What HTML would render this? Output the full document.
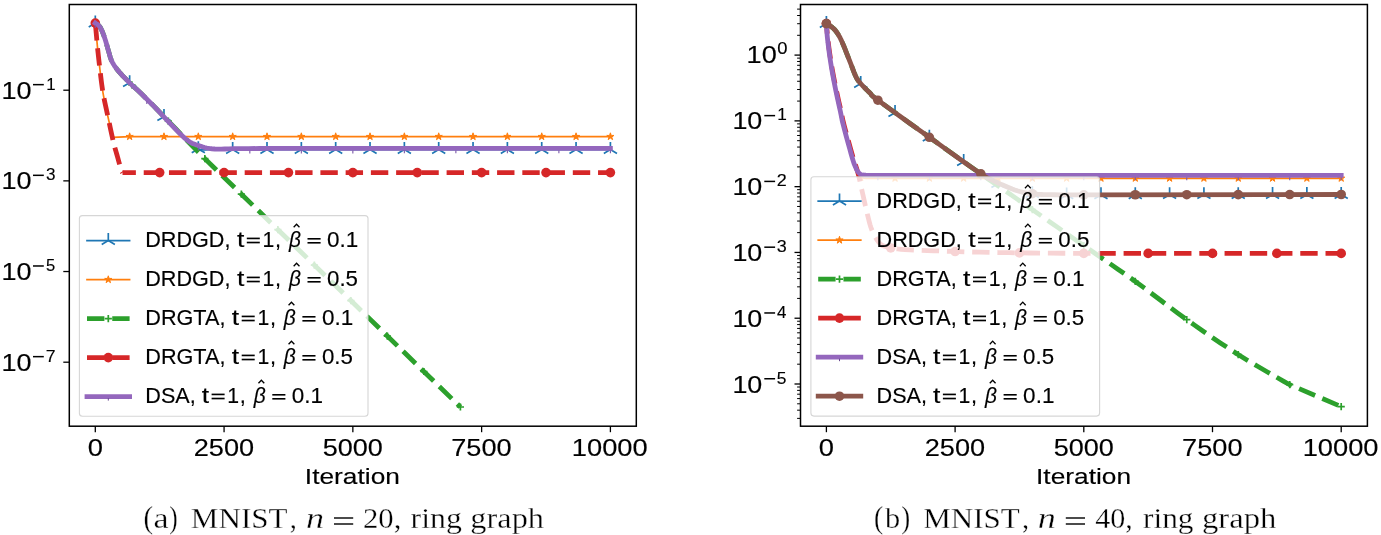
<!DOCTYPE html>
<html><head><meta charset="utf-8"><style>html,body{margin:0;padding:0;background:#fff;width:1381px;height:535px;overflow:hidden} svg{display:block;will-change:transform}</style></head>
<body><svg width="1381" height="535" viewBox="0 0 1381 535">
<rect width="1381" height="535" fill="#fff"/>
<clipPath id="cl"><rect x="69.3" y="4.5" width="567.0" height="421.7"/></clipPath>
<g clip-path="url(#cl)"><path d="M95.30,23.10 L95.81,23.45 L96.53,23.87 L97.37,24.40 L98.27,25.07 L99.17,25.93 L100.00,27.00 L100.76,28.30 L101.52,29.81 L102.27,31.51 L103.01,33.35 L103.76,35.33 L104.50,37.40 L105.26,39.70 L106.03,42.28 L106.79,44.99 L107.54,47.67 L108.25,50.19 L108.90,52.40 L109.45,54.25 L109.89,55.84 L110.30,57.27 L110.73,58.62 L111.24,59.97 L111.90,61.40 L112.67,62.87 L113.51,64.32 L114.43,65.76 L115.46,67.24 L116.60,68.77 L117.90,70.40 L119.35,72.12 L120.96,73.91 L122.68,75.77 L124.51,77.67 L126.42,79.62 L128.40,81.60 L130.46,83.61 L132.63,85.65 L134.89,87.73 L137.20,89.86 L139.55,92.05 L141.90,94.30 L144.12,96.46 L146.20,98.51 L148.32,100.61 L150.64,102.94 L153.34,105.68 L156.60,109.00 L160.72,113.27 L165.62,118.41 L170.91,123.97 L176.17,129.46 L181.00,134.43 L185.00,138.40 L188.01,141.34 L190.33,143.63 L192.22,145.39 L193.95,146.75 L195.79,147.84 L198.00,148.80 L200.50,149.50 L203.04,149.81 L205.69,149.85 L208.51,149.75 L211.56,149.62 L214.90,149.60 L218.90,149.65 L223.59,149.66 L228.51,149.65 L233.19,149.63 L237.17,149.61 L240.00,149.60 L610.40,149.60" fill="none" stroke="#1f77b4" stroke-width="1.7" stroke-linecap="square" stroke-linejoin="round"/>
<path d="M95.30,23.10 L95.30,15.50 M95.30,23.10 L88.72,26.90 M95.30,23.10 L101.88,26.90" stroke="#1f77b4" stroke-width="1.7" fill="none"/>
<path d="M129.64,82.81 L129.64,75.21 M129.64,82.81 L123.06,86.61 M129.64,82.81 L136.22,86.61" stroke="#1f77b4" stroke-width="1.7" fill="none"/>
<path d="M163.98,116.69 L163.98,109.09 M163.98,116.69 L157.40,120.49 M163.98,116.69 L170.56,120.49" stroke="#1f77b4" stroke-width="1.7" fill="none"/>
<path d="M198.32,148.89 L198.32,141.29 M198.32,148.89 L191.74,152.69 M198.32,148.89 L204.90,152.69" stroke="#1f77b4" stroke-width="1.7" fill="none"/>
<path d="M232.66,149.63 L232.66,142.03 M232.66,149.63 L226.08,153.43 M232.66,149.63 L239.24,153.43" stroke="#1f77b4" stroke-width="1.7" fill="none"/>
<path d="M267.00,149.60 L267.00,142.00 M267.00,149.60 L260.42,153.40 M267.00,149.60 L273.58,153.40" stroke="#1f77b4" stroke-width="1.7" fill="none"/>
<path d="M301.34,149.60 L301.34,142.00 M301.34,149.60 L294.76,153.40 M301.34,149.60 L307.92,153.40" stroke="#1f77b4" stroke-width="1.7" fill="none"/>
<path d="M335.68,149.60 L335.68,142.00 M335.68,149.60 L329.10,153.40 M335.68,149.60 L342.26,153.40" stroke="#1f77b4" stroke-width="1.7" fill="none"/>
<path d="M370.02,149.60 L370.02,142.00 M370.02,149.60 L363.44,153.40 M370.02,149.60 L376.60,153.40" stroke="#1f77b4" stroke-width="1.7" fill="none"/>
<path d="M404.36,149.60 L404.36,142.00 M404.36,149.60 L397.78,153.40 M404.36,149.60 L410.94,153.40" stroke="#1f77b4" stroke-width="1.7" fill="none"/>
<path d="M438.70,149.60 L438.70,142.00 M438.70,149.60 L432.12,153.40 M438.70,149.60 L445.28,153.40" stroke="#1f77b4" stroke-width="1.7" fill="none"/>
<path d="M473.04,149.60 L473.04,142.00 M473.04,149.60 L466.46,153.40 M473.04,149.60 L479.62,153.40" stroke="#1f77b4" stroke-width="1.7" fill="none"/>
<path d="M507.38,149.60 L507.38,142.00 M507.38,149.60 L500.80,153.40 M507.38,149.60 L513.96,153.40" stroke="#1f77b4" stroke-width="1.7" fill="none"/>
<path d="M541.72,149.60 L541.72,142.00 M541.72,149.60 L535.14,153.40 M541.72,149.60 L548.30,153.40" stroke="#1f77b4" stroke-width="1.7" fill="none"/>
<path d="M576.06,149.60 L576.06,142.00 M576.06,149.60 L569.48,153.40 M576.06,149.60 L582.64,153.40" stroke="#1f77b4" stroke-width="1.7" fill="none"/>
<path d="M610.40,149.60 L610.40,142.00 M610.40,149.60 L603.82,153.40 M610.40,149.60 L616.98,153.40" stroke="#1f77b4" stroke-width="1.7" fill="none"/>
<path d="M95.30,23.10 L95.39,24.10 L95.51,25.43 L95.66,27.03 L95.82,28.85 L96.00,30.86 L96.20,33.00 L96.41,35.31 L96.63,37.83 L96.86,40.53 L97.12,43.38 L97.40,46.35 L97.70,49.40 L98.03,52.56 L98.38,55.87 L98.76,59.30 L99.15,62.81 L99.57,66.39 L100.00,70.00 L100.44,73.66 L100.87,77.39 L101.33,81.17 L101.83,85.01 L102.38,88.89 L103.00,92.80 L103.72,96.80 L104.53,100.90 L105.39,105.05 L106.27,109.16 L107.16,113.17 L108.00,117.00 L108.87,120.86 L109.79,124.84 L110.71,128.71 L111.56,132.25 L112.28,135.22 L112.80,137.40 L129.60,136.60 L610.40,136.60" fill="none" stroke="#ff7f0e" stroke-width="1.7" stroke-linecap="square" stroke-linejoin="round"/>
<path d="M95.30,19.30 L96.15,21.93 L98.91,21.93 L96.68,23.55 L97.53,26.17 L95.30,24.55 L93.07,26.17 L93.92,23.55 L91.69,21.93 L94.45,21.93Z" fill="#ff7f0e" stroke="#ff7f0e" stroke-width="1.0" stroke-linejoin="miter"/>
<path d="M129.64,132.80 L130.49,135.43 L133.25,135.43 L131.02,137.05 L131.87,139.67 L129.64,138.05 L127.41,139.67 L128.26,137.05 L126.03,135.43 L128.79,135.43Z" fill="#ff7f0e" stroke="#ff7f0e" stroke-width="1.0" stroke-linejoin="miter"/>
<path d="M163.98,132.80 L164.83,135.43 L167.59,135.43 L165.36,137.05 L166.21,139.67 L163.98,138.05 L161.75,139.67 L162.60,137.05 L160.37,135.43 L163.13,135.43Z" fill="#ff7f0e" stroke="#ff7f0e" stroke-width="1.0" stroke-linejoin="miter"/>
<path d="M198.32,132.80 L199.17,135.43 L201.93,135.43 L199.70,137.05 L200.55,139.67 L198.32,138.05 L196.09,139.67 L196.94,137.05 L194.71,135.43 L197.47,135.43Z" fill="#ff7f0e" stroke="#ff7f0e" stroke-width="1.0" stroke-linejoin="miter"/>
<path d="M232.66,132.80 L233.51,135.43 L236.27,135.43 L234.04,137.05 L234.89,139.67 L232.66,138.05 L230.43,139.67 L231.28,137.05 L229.05,135.43 L231.81,135.43Z" fill="#ff7f0e" stroke="#ff7f0e" stroke-width="1.0" stroke-linejoin="miter"/>
<path d="M267.00,132.80 L267.85,135.43 L270.61,135.43 L268.38,137.05 L269.23,139.67 L267.00,138.05 L264.77,139.67 L265.62,137.05 L263.39,135.43 L266.15,135.43Z" fill="#ff7f0e" stroke="#ff7f0e" stroke-width="1.0" stroke-linejoin="miter"/>
<path d="M301.34,132.80 L302.19,135.43 L304.95,135.43 L302.72,137.05 L303.57,139.67 L301.34,138.05 L299.11,139.67 L299.96,137.05 L297.73,135.43 L300.49,135.43Z" fill="#ff7f0e" stroke="#ff7f0e" stroke-width="1.0" stroke-linejoin="miter"/>
<path d="M335.68,132.80 L336.53,135.43 L339.29,135.43 L337.06,137.05 L337.91,139.67 L335.68,138.05 L333.45,139.67 L334.30,137.05 L332.07,135.43 L334.83,135.43Z" fill="#ff7f0e" stroke="#ff7f0e" stroke-width="1.0" stroke-linejoin="miter"/>
<path d="M370.02,132.80 L370.87,135.43 L373.63,135.43 L371.40,137.05 L372.25,139.67 L370.02,138.05 L367.79,139.67 L368.64,137.05 L366.41,135.43 L369.17,135.43Z" fill="#ff7f0e" stroke="#ff7f0e" stroke-width="1.0" stroke-linejoin="miter"/>
<path d="M404.36,132.80 L405.21,135.43 L407.97,135.43 L405.74,137.05 L406.59,139.67 L404.36,138.05 L402.13,139.67 L402.98,137.05 L400.75,135.43 L403.51,135.43Z" fill="#ff7f0e" stroke="#ff7f0e" stroke-width="1.0" stroke-linejoin="miter"/>
<path d="M438.70,132.80 L439.55,135.43 L442.31,135.43 L440.08,137.05 L440.93,139.67 L438.70,138.05 L436.47,139.67 L437.32,137.05 L435.09,135.43 L437.85,135.43Z" fill="#ff7f0e" stroke="#ff7f0e" stroke-width="1.0" stroke-linejoin="miter"/>
<path d="M473.04,132.80 L473.89,135.43 L476.65,135.43 L474.42,137.05 L475.27,139.67 L473.04,138.05 L470.81,139.67 L471.66,137.05 L469.43,135.43 L472.19,135.43Z" fill="#ff7f0e" stroke="#ff7f0e" stroke-width="1.0" stroke-linejoin="miter"/>
<path d="M507.38,132.80 L508.23,135.43 L510.99,135.43 L508.76,137.05 L509.61,139.67 L507.38,138.05 L505.15,139.67 L506.00,137.05 L503.77,135.43 L506.53,135.43Z" fill="#ff7f0e" stroke="#ff7f0e" stroke-width="1.0" stroke-linejoin="miter"/>
<path d="M541.72,132.80 L542.57,135.43 L545.33,135.43 L543.10,137.05 L543.95,139.67 L541.72,138.05 L539.49,139.67 L540.34,137.05 L538.11,135.43 L540.87,135.43Z" fill="#ff7f0e" stroke="#ff7f0e" stroke-width="1.0" stroke-linejoin="miter"/>
<path d="M576.06,132.80 L576.91,135.43 L579.67,135.43 L577.44,137.05 L578.29,139.67 L576.06,138.05 L573.83,139.67 L574.68,137.05 L572.45,135.43 L575.21,135.43Z" fill="#ff7f0e" stroke="#ff7f0e" stroke-width="1.0" stroke-linejoin="miter"/>
<path d="M610.40,132.80 L611.25,135.43 L614.01,135.43 L611.78,137.05 L612.63,139.67 L610.40,138.05 L608.17,139.67 L609.02,137.05 L606.79,135.43 L609.55,135.43Z" fill="#ff7f0e" stroke="#ff7f0e" stroke-width="1.0" stroke-linejoin="miter"/>
<path d="M95.30,23.10 L95.81,23.45 L96.53,23.87 L97.37,24.40 L98.27,25.07 L99.17,25.93 L100.00,27.00 L100.76,28.30 L101.52,29.81 L102.27,31.51 L103.01,33.35 L103.76,35.33 L104.50,37.40 L105.26,39.70 L106.03,42.28 L106.79,44.99 L107.54,47.67 L108.25,50.19 L108.90,52.40 L109.45,54.25 L109.89,55.84 L110.30,57.27 L110.73,58.62 L111.24,59.97 L111.90,61.40 L112.67,62.87 L113.51,64.32 L114.43,65.76 L115.46,67.24 L116.60,68.77 L117.90,70.40 L119.35,72.12 L120.96,73.91 L122.68,75.77 L124.51,77.67 L126.42,79.62 L128.40,81.60 L130.46,83.61 L132.63,85.65 L134.89,87.73 L137.20,89.86 L139.55,92.05 L141.90,94.30 L144.12,96.46 L146.20,98.51 L148.32,100.61 L150.64,102.94 L153.34,105.68 L156.60,109.00 L160.64,113.16 L165.37,118.05 L170.48,123.36 L175.66,128.74 L180.61,133.86 L185.00,138.40 L189.03,142.53 L192.97,146.56 L196.68,150.34 L199.99,153.70 L202.75,156.51 L204.80,158.60 L460.40,407.00" fill="none" stroke="#2ca02c" stroke-width="4.8" stroke-dasharray="17.4 7.84" stroke-dashoffset="0.46" stroke-linecap="butt" stroke-linejoin="round"/>
<path d="M91.70,23.10 L98.90,23.10 M95.30,19.50 L95.30,26.70" stroke="#2ca02c" stroke-width="1.7" fill="none"/>
<path d="M128.21,84.87 L135.41,84.87 M131.81,81.27 L131.81,88.47" stroke="#2ca02c" stroke-width="1.7" fill="none"/>
<path d="M164.72,121.11 L171.92,121.11 M168.32,117.51 L168.32,124.71" stroke="#2ca02c" stroke-width="1.7" fill="none"/>
<path d="M201.23,158.63 L208.43,158.63 M204.83,155.03 L204.83,162.23" stroke="#2ca02c" stroke-width="1.7" fill="none"/>
<path d="M237.74,194.11 L244.94,194.11 M241.34,190.51 L241.34,197.71" stroke="#2ca02c" stroke-width="1.7" fill="none"/>
<path d="M274.25,229.59 L281.45,229.59 M277.85,225.99 L277.85,233.19" stroke="#2ca02c" stroke-width="1.7" fill="none"/>
<path d="M310.76,265.07 L317.96,265.07 M314.36,261.47 L314.36,268.67" stroke="#2ca02c" stroke-width="1.7" fill="none"/>
<path d="M347.27,300.56 L354.47,300.56 M350.87,296.96 L350.87,304.16" stroke="#2ca02c" stroke-width="1.7" fill="none"/>
<path d="M383.78,336.04 L390.98,336.04 M387.38,332.44 L387.38,339.64" stroke="#2ca02c" stroke-width="1.7" fill="none"/>
<path d="M420.29,371.52 L427.49,371.52 M423.89,367.92 L423.89,375.12" stroke="#2ca02c" stroke-width="1.7" fill="none"/>
<path d="M456.80,407.00 L464.00,407.00 M460.40,403.40 L460.40,410.60" stroke="#2ca02c" stroke-width="1.7" fill="none"/>
<path d="M95.30,23.10 L95.39,24.10 L95.51,25.43 L95.66,27.03 L95.82,28.85 L96.00,30.86 L96.20,33.00 L96.41,35.31 L96.63,37.83 L96.86,40.53 L97.12,43.38 L97.40,46.35 L97.70,49.40 L98.03,52.56 L98.38,55.87 L98.76,59.30 L99.15,62.81 L99.57,66.39 L100.00,70.00 L100.44,73.66 L100.87,77.39 L101.33,81.17 L101.83,85.01 L102.38,88.89 L103.00,92.80 L103.71,96.74 L104.50,100.73 L105.35,104.76 L106.23,108.82 L107.12,112.90 L108.00,117.00 L108.90,121.26 L109.84,125.72 L110.79,130.20 L111.72,134.53 L112.60,138.52 L113.40,142.00 L114.12,144.91 L114.77,147.37 L115.38,149.50 L115.95,151.41 L116.48,153.20 L117.00,155.00 L117.51,156.84 L118.01,158.63 L118.47,160.31 L118.89,161.81 L119.24,163.07 L119.50,164.00 L121.00,170.30 L122.50,172.60" fill="none" stroke="#d62728" stroke-width="4.8" stroke-dasharray="17.4 7.84" stroke-dashoffset="0.00" stroke-linecap="butt" stroke-linejoin="round"/>
<path d="M122.50,172.60 L610.40,172.60" fill="none" stroke="#d62728" stroke-width="4.8" stroke-dasharray="17.4 7.84" stroke-dashoffset="4.02" stroke-linecap="butt" stroke-linejoin="round"/>
<circle cx="95.30" cy="23.10" r="4.8" fill="#d62728"/>
<circle cx="159.69" cy="172.60" r="4.8" fill="#d62728"/>
<circle cx="224.07" cy="172.60" r="4.8" fill="#d62728"/>
<circle cx="288.46" cy="172.60" r="4.8" fill="#d62728"/>
<circle cx="352.85" cy="172.60" r="4.8" fill="#d62728"/>
<circle cx="417.24" cy="172.60" r="4.8" fill="#d62728"/>
<circle cx="481.62" cy="172.60" r="4.8" fill="#d62728"/>
<circle cx="546.01" cy="172.60" r="4.8" fill="#d62728"/>
<circle cx="610.40" cy="172.60" r="4.8" fill="#d62728"/>
<path d="M95.30,23.10 L95.81,23.45 L96.53,23.87 L97.37,24.40 L98.27,25.07 L99.17,25.93 L100.00,27.00 L100.76,28.30 L101.52,29.81 L102.27,31.51 L103.01,33.35 L103.76,35.33 L104.50,37.40 L105.26,39.70 L106.03,42.28 L106.79,44.99 L107.54,47.67 L108.25,50.19 L108.90,52.40 L109.45,54.25 L109.89,55.84 L110.30,57.27 L110.73,58.62 L111.24,59.97 L111.90,61.40 L112.67,62.87 L113.51,64.32 L114.43,65.76 L115.46,67.24 L116.60,68.77 L117.90,70.40 L119.35,72.12 L120.96,73.91 L122.68,75.77 L124.51,77.67 L126.42,79.62 L128.40,81.60 L130.46,83.61 L132.63,85.65 L134.89,87.73 L137.20,89.86 L139.55,92.05 L141.90,94.30 L144.12,96.46 L146.20,98.51 L148.32,100.61 L150.64,102.94 L153.34,105.68 L156.60,109.00 L160.70,113.30 L165.55,118.52 L170.78,124.14 L176.02,129.67 L180.88,134.59 L185.00,138.40 L188.28,140.98 L191.00,142.72 L193.34,143.85 L195.50,144.61 L197.66,145.25 L200.00,146.00 L202.37,146.81 L204.60,147.47 L206.82,148.00 L209.18,148.42 L211.83,148.75 L214.90,149.00 L218.09,149.13 L221.22,149.11 L224.63,149.00 L228.67,148.84 L233.68,148.69 L240.00,148.60 L248.67,148.55 L259.64,148.51 L271.57,148.47 L283.15,148.44 L293.07,148.42 L300.00,148.40 L610.40,148.30" fill="none" stroke="#9467bd" stroke-width="4.8" stroke-linecap="square" stroke-linejoin="round"/>
<path d="M95.30,25.30 L95.30,28.10" stroke="#7a57a8" stroke-width="1.1" fill="none"/>
<path d="M146.81,101.31 L146.81,104.11" stroke="#7a57a8" stroke-width="1.1" fill="none"/>
<path d="M198.32,147.66 L198.32,150.46" stroke="#7a57a8" stroke-width="1.1" fill="none"/>
<path d="M249.83,150.75 L249.83,153.55" stroke="#7a57a8" stroke-width="1.1" fill="none"/>
<path d="M301.34,150.60 L301.34,153.40" stroke="#7a57a8" stroke-width="1.1" fill="none"/>
<path d="M352.85,150.58 L352.85,153.38" stroke="#7a57a8" stroke-width="1.1" fill="none"/>
<path d="M404.36,150.57 L404.36,153.37" stroke="#7a57a8" stroke-width="1.1" fill="none"/>
<path d="M455.87,150.55 L455.87,153.35" stroke="#7a57a8" stroke-width="1.1" fill="none"/>
<path d="M507.38,150.53 L507.38,153.33" stroke="#7a57a8" stroke-width="1.1" fill="none"/>
<path d="M558.89,150.52 L558.89,153.32" stroke="#7a57a8" stroke-width="1.1" fill="none"/>
<path d="M610.40,150.50 L610.40,153.30" stroke="#7a57a8" stroke-width="1.1" fill="none"/></g>
<rect x="79.4" y="215.6" width="288.6" height="200.70000000000002" rx="3" ry="3" fill="#fff" fill-opacity="0.8" stroke="#cccccc" stroke-opacity="0.8" stroke-width="1.1"/>
<path d="M87.00,240.60 L129.60,240.60" fill="none" stroke="#1f77b4" stroke-width="1.7" stroke-linecap="square" stroke-linejoin="round"/>
<path d="M108.30,240.60 L108.30,233.00 M108.30,240.60 L101.72,244.40 M108.30,240.60 L114.88,244.40" stroke="#1f77b4" stroke-width="1.7" fill="none"/>
<rect x="246.80" y="237.60" width="13.0" height="1.65" fill="#000"/>
<rect x="246.80" y="241.70" width="13.0" height="1.65" fill="#000"/>
<path d="M293.66,227.30 L296.56,224.20 L299.46,227.30" stroke="#000" stroke-width="1.3" fill="none"/>
<rect x="307.50" y="238.00" width="13.10" height="1.6" fill="#000"/>
<rect x="307.50" y="242.00" width="13.10" height="1.6" fill="#000"/>
<path d="M87.00,279.60 L129.60,279.60" fill="none" stroke="#ff7f0e" stroke-width="1.7" stroke-linecap="square" stroke-linejoin="round"/>
<path d="M108.30,275.80 L109.15,278.43 L111.91,278.43 L109.68,280.05 L110.53,282.67 L108.30,281.05 L106.07,282.67 L106.92,280.05 L104.69,278.43 L107.45,278.43Z" fill="#ff7f0e" stroke="#ff7f0e" stroke-width="1.0" stroke-linejoin="miter"/>
<rect x="246.80" y="276.60" width="13.0" height="1.65" fill="#000"/>
<rect x="246.80" y="280.70" width="13.0" height="1.65" fill="#000"/>
<path d="M293.66,266.30 L296.56,263.20 L299.46,266.30" stroke="#000" stroke-width="1.3" fill="none"/>
<rect x="307.50" y="277.00" width="13.10" height="1.6" fill="#000"/>
<rect x="307.50" y="281.00" width="13.10" height="1.6" fill="#000"/>
<path d="M87.0,318.60 L129.6,318.60" stroke="#2ca02c" stroke-width="4.8" stroke-dasharray="17.4 7.84" fill="none"/>
<path d="M104.70,318.60 L111.90,318.60 M108.30,315.00 L108.30,322.20" stroke="#2ca02c" stroke-width="1.7" fill="none"/>
<rect x="241.70" y="315.60" width="13.0" height="1.65" fill="#000"/>
<rect x="241.70" y="319.70" width="13.0" height="1.65" fill="#000"/>
<path d="M288.56,305.30 L291.46,302.20 L294.36,305.30" stroke="#000" stroke-width="1.3" fill="none"/>
<rect x="302.40" y="316.00" width="13.10" height="1.6" fill="#000"/>
<rect x="302.40" y="320.00" width="13.10" height="1.6" fill="#000"/>
<path d="M87.0,357.60 L129.6,357.60" stroke="#d62728" stroke-width="4.8" stroke-dasharray="17.4 7.84" fill="none"/>
<circle cx="108.30" cy="357.60" r="4.8" fill="#d62728"/>
<rect x="241.70" y="354.60" width="13.0" height="1.65" fill="#000"/>
<rect x="241.70" y="358.70" width="13.0" height="1.65" fill="#000"/>
<path d="M288.56,344.30 L291.46,341.20 L294.36,344.30" stroke="#000" stroke-width="1.3" fill="none"/>
<rect x="302.40" y="355.00" width="13.10" height="1.6" fill="#000"/>
<rect x="302.40" y="359.00" width="13.10" height="1.6" fill="#000"/>
<path d="M87.00,396.60 L129.60,396.60" fill="none" stroke="#9467bd" stroke-width="4.8" stroke-linecap="square" stroke-linejoin="round"/>
<path d="M108.30,398.10 L108.30,400.60" stroke="#6a4a90" stroke-width="1" fill="none"/>
<rect x="211.60" y="393.60" width="13.0" height="1.65" fill="#000"/>
<rect x="211.60" y="397.70" width="13.0" height="1.65" fill="#000"/>
<path d="M258.46,383.30 L261.36,380.20 L264.26,383.30" stroke="#000" stroke-width="1.3" fill="none"/>
<rect x="272.30" y="394.00" width="13.10" height="1.6" fill="#000"/>
<rect x="272.30" y="398.00" width="13.10" height="1.6" fill="#000"/>
<rect x="69.3" y="4.5" width="567.0" height="421.7" fill="none" stroke="#000" stroke-width="1.5" stroke-linejoin="miter"/>
<path d="M95.30,426.2 L95.30,432.2" stroke="#000" stroke-width="1.3"/>
<path d="M224.07,426.2 L224.07,432.2" stroke="#000" stroke-width="1.3"/>
<path d="M352.85,426.2 L352.85,432.2" stroke="#000" stroke-width="1.3"/>
<path d="M481.62,426.2 L481.62,432.2" stroke="#000" stroke-width="1.3"/>
<path d="M610.40,426.2 L610.40,432.2" stroke="#000" stroke-width="1.3"/>
<path d="M63.3,90.20 L69.3,90.20" stroke="#000" stroke-width="1.3"/>
<rect x="33.0" y="83.90" width="10.8" height="1.5" fill="#000"/>
<path d="M63.3,180.87 L69.3,180.87" stroke="#000" stroke-width="1.3"/>
<rect x="33.0" y="174.57" width="10.8" height="1.5" fill="#000"/>
<path d="M63.3,271.53 L69.3,271.53" stroke="#000" stroke-width="1.3"/>
<rect x="33.0" y="265.23" width="10.8" height="1.5" fill="#000"/>
<path d="M63.3,362.20 L69.3,362.20" stroke="#000" stroke-width="1.3"/>
<rect x="33.0" y="355.90" width="10.8" height="1.5" fill="#000"/>
<clipPath id="cr"><rect x="800.5" y="4.5" width="566.9000000000001" height="421.7"/></clipPath>
<g clip-path="url(#cr)"><path d="M826.40,23.60 L827.20,24.11 L828.32,24.81 L829.64,25.64 L831.03,26.57 L832.36,27.53 L833.50,28.50 L834.46,29.47 L835.35,30.47 L836.17,31.51 L836.96,32.61 L837.73,33.77 L838.50,35.00 L839.23,36.23 L839.90,37.44 L840.54,38.71 L841.21,40.12 L841.95,41.76 L842.80,43.70 L843.78,46.03 L844.86,48.70 L846.00,51.59 L847.18,54.60 L848.36,57.61 L849.50,60.50 L850.63,63.41 L851.77,66.44 L852.91,69.47 L854.03,72.37 L855.14,75.03 L856.20,77.30 L857.19,79.11 L858.12,80.53 L859.02,81.70 L859.94,82.75 L860.92,83.80 L862.00,85.00 L863.21,86.33 L864.51,87.67 L865.87,89.03 L867.26,90.38 L868.65,91.71 L870.00,93.00 L870.82,93.90 L871.03,94.35 L871.23,94.78 L872.04,95.61 L874.06,97.28 L877.90,100.20 L884.16,104.80 L892.47,110.82 L902.00,117.68 L911.89,124.77 L921.31,131.51 L929.40,137.30 L936.26,142.22 L942.59,146.75 L948.44,150.92 L953.87,154.79 L958.93,158.36 L963.70,161.70 L968.02,164.71 L971.81,167.34 L975.24,169.69 L978.48,171.85 L981.68,173.92 L985.00,176.00 L988.35,178.08 L991.58,180.08 L994.77,181.99 L998.01,183.79 L1001.39,185.47 L1005.00,187.00 L1008.82,188.40 L1012.78,189.69 L1016.88,190.85 L1021.11,191.88 L1025.49,192.76 L1030.00,193.50 L1034.59,194.04 L1039.26,194.40 L1044.06,194.61 L1049.07,194.73 L1054.36,194.81 L1060.00,194.90 L1066.55,194.98 L1074.07,195.00 L1081.88,194.99 L1089.26,194.95 L1095.53,194.92 L1100.00,194.90 L1341.20,194.60" fill="none" stroke="#1f77b4" stroke-width="1.7" stroke-linecap="square" stroke-linejoin="round"/>
<path d="M826.40,23.60 L826.40,16.00 M826.40,23.60 L819.82,27.40 M826.40,23.60 L832.98,27.40" stroke="#1f77b4" stroke-width="1.7" fill="none"/>
<path d="M860.72,83.59 L860.72,75.99 M860.72,83.59 L854.14,87.39 M860.72,83.59 L867.30,87.39" stroke="#1f77b4" stroke-width="1.7" fill="none"/>
<path d="M895.04,112.67 L895.04,105.07 M895.04,112.67 L888.46,116.47 M895.04,112.67 L901.62,116.47" stroke="#1f77b4" stroke-width="1.7" fill="none"/>
<path d="M929.36,137.27 L929.36,129.67 M929.36,137.27 L922.78,141.07 M929.36,137.27 L935.94,141.07" stroke="#1f77b4" stroke-width="1.7" fill="none"/>
<path d="M963.68,161.69 L963.68,154.09 M963.68,161.69 L957.10,165.49 M963.68,161.69 L970.26,165.49" stroke="#1f77b4" stroke-width="1.7" fill="none"/>
<path d="M998.00,183.78 L998.00,176.18 M998.00,183.78 L991.42,187.58 M998.00,183.78 L1004.58,187.58" stroke="#1f77b4" stroke-width="1.7" fill="none"/>
<path d="M1032.32,193.78 L1032.32,186.18 M1032.32,193.78 L1025.74,197.58 M1032.32,193.78 L1038.90,197.58" stroke="#1f77b4" stroke-width="1.7" fill="none"/>
<path d="M1066.64,194.98 L1066.64,187.38 M1066.64,194.98 L1060.06,198.78 M1066.64,194.98 L1073.22,198.78" stroke="#1f77b4" stroke-width="1.7" fill="none"/>
<path d="M1100.96,194.90 L1100.96,187.30 M1100.96,194.90 L1094.38,198.70 M1100.96,194.90 L1107.54,198.70" stroke="#1f77b4" stroke-width="1.7" fill="none"/>
<path d="M1135.28,194.86 L1135.28,187.26 M1135.28,194.86 L1128.70,198.66 M1135.28,194.86 L1141.86,198.66" stroke="#1f77b4" stroke-width="1.7" fill="none"/>
<path d="M1169.60,194.81 L1169.60,187.21 M1169.60,194.81 L1163.02,198.61 M1169.60,194.81 L1176.18,198.61" stroke="#1f77b4" stroke-width="1.7" fill="none"/>
<path d="M1203.92,194.77 L1203.92,187.17 M1203.92,194.77 L1197.34,198.57 M1203.92,194.77 L1210.50,198.57" stroke="#1f77b4" stroke-width="1.7" fill="none"/>
<path d="M1238.24,194.73 L1238.24,187.13 M1238.24,194.73 L1231.66,198.53 M1238.24,194.73 L1244.82,198.53" stroke="#1f77b4" stroke-width="1.7" fill="none"/>
<path d="M1272.56,194.69 L1272.56,187.09 M1272.56,194.69 L1265.98,198.49 M1272.56,194.69 L1279.14,198.49" stroke="#1f77b4" stroke-width="1.7" fill="none"/>
<path d="M1306.88,194.64 L1306.88,187.04 M1306.88,194.64 L1300.30,198.44 M1306.88,194.64 L1313.46,198.44" stroke="#1f77b4" stroke-width="1.7" fill="none"/>
<path d="M1341.20,194.60 L1341.20,187.00 M1341.20,194.60 L1334.62,198.40 M1341.20,194.60 L1347.78,198.40" stroke="#1f77b4" stroke-width="1.7" fill="none"/>
<path d="M826.40,23.60 L826.52,24.96 L826.67,26.79 L826.85,28.98 L827.07,31.43 L827.32,34.04 L827.60,36.70 L827.92,39.49 L828.29,42.52 L828.68,45.71 L829.10,48.97 L829.55,52.22 L830.00,55.40 L830.47,58.50 L830.96,61.60 L831.46,64.69 L831.99,67.79 L832.53,70.89 L833.10,74.00 L833.69,77.12 L834.30,80.26 L834.93,83.39 L835.58,86.53 L836.24,89.67 L836.90,92.80 L837.59,95.98 L838.31,99.21 L839.04,102.45 L839.77,105.62 L840.46,108.66 L841.10,111.50 L841.61,113.89 L842.00,115.83 L842.35,117.64 L842.77,119.64 L843.35,122.15 L844.20,125.50 L845.42,130.11 L846.97,135.80 L848.69,142.00 L850.40,148.15 L851.96,153.67 L853.20,158.00 L854.08,160.99 L854.73,163.07 L855.23,164.53 L855.63,165.65 L856.03,166.71 L856.50,168.00 L857.00,169.52 L857.47,171.03 L857.92,172.49 L858.40,173.84 L858.92,175.03 L859.50,176.00 L860.03,176.73 L860.46,177.24 L860.94,177.59 L861.59,177.84 L862.57,178.02 L864.00,178.20 L866.19,178.34 L869.07,178.39 L872.28,178.39 L875.43,178.35 L878.13,178.31 L880.00,178.30 L1341.20,178.30" fill="none" stroke="#ff7f0e" stroke-width="1.7" stroke-linecap="square" stroke-linejoin="round"/>
<path d="M826.40,19.80 L827.25,22.43 L830.01,22.43 L827.78,24.05 L828.63,26.67 L826.40,25.05 L824.17,26.67 L825.02,24.05 L822.79,22.43 L825.55,22.43Z" fill="#ff7f0e" stroke="#ff7f0e" stroke-width="1.0" stroke-linejoin="miter"/>
<path d="M860.72,173.63 L861.57,176.26 L864.33,176.26 L862.10,177.88 L862.95,180.51 L860.72,178.88 L858.49,180.51 L859.34,177.88 L857.11,176.26 L859.87,176.26Z" fill="#ff7f0e" stroke="#ff7f0e" stroke-width="1.0" stroke-linejoin="miter"/>
<path d="M895.04,174.50 L895.89,177.13 L898.65,177.13 L896.42,178.75 L897.27,181.37 L895.04,179.75 L892.81,181.37 L893.66,178.75 L891.43,177.13 L894.19,177.13Z" fill="#ff7f0e" stroke="#ff7f0e" stroke-width="1.0" stroke-linejoin="miter"/>
<path d="M929.36,174.50 L930.21,177.13 L932.97,177.13 L930.74,178.75 L931.59,181.37 L929.36,179.75 L927.13,181.37 L927.98,178.75 L925.75,177.13 L928.51,177.13Z" fill="#ff7f0e" stroke="#ff7f0e" stroke-width="1.0" stroke-linejoin="miter"/>
<path d="M963.68,174.50 L964.53,177.13 L967.29,177.13 L965.06,178.75 L965.91,181.37 L963.68,179.75 L961.45,181.37 L962.30,178.75 L960.07,177.13 L962.83,177.13Z" fill="#ff7f0e" stroke="#ff7f0e" stroke-width="1.0" stroke-linejoin="miter"/>
<path d="M998.00,174.50 L998.85,177.13 L1001.61,177.13 L999.38,178.75 L1000.23,181.37 L998.00,179.75 L995.77,181.37 L996.62,178.75 L994.39,177.13 L997.15,177.13Z" fill="#ff7f0e" stroke="#ff7f0e" stroke-width="1.0" stroke-linejoin="miter"/>
<path d="M1032.32,174.50 L1033.17,177.13 L1035.93,177.13 L1033.70,178.75 L1034.55,181.37 L1032.32,179.75 L1030.09,181.37 L1030.94,178.75 L1028.71,177.13 L1031.47,177.13Z" fill="#ff7f0e" stroke="#ff7f0e" stroke-width="1.0" stroke-linejoin="miter"/>
<path d="M1066.64,174.50 L1067.49,177.13 L1070.25,177.13 L1068.02,178.75 L1068.87,181.37 L1066.64,179.75 L1064.41,181.37 L1065.26,178.75 L1063.03,177.13 L1065.79,177.13Z" fill="#ff7f0e" stroke="#ff7f0e" stroke-width="1.0" stroke-linejoin="miter"/>
<path d="M1100.96,174.50 L1101.81,177.13 L1104.57,177.13 L1102.34,178.75 L1103.19,181.37 L1100.96,179.75 L1098.73,181.37 L1099.58,178.75 L1097.35,177.13 L1100.11,177.13Z" fill="#ff7f0e" stroke="#ff7f0e" stroke-width="1.0" stroke-linejoin="miter"/>
<path d="M1135.28,174.50 L1136.13,177.13 L1138.89,177.13 L1136.66,178.75 L1137.51,181.37 L1135.28,179.75 L1133.05,181.37 L1133.90,178.75 L1131.67,177.13 L1134.43,177.13Z" fill="#ff7f0e" stroke="#ff7f0e" stroke-width="1.0" stroke-linejoin="miter"/>
<path d="M1169.60,174.50 L1170.45,177.13 L1173.21,177.13 L1170.98,178.75 L1171.83,181.37 L1169.60,179.75 L1167.37,181.37 L1168.22,178.75 L1165.99,177.13 L1168.75,177.13Z" fill="#ff7f0e" stroke="#ff7f0e" stroke-width="1.0" stroke-linejoin="miter"/>
<path d="M1203.92,174.50 L1204.77,177.13 L1207.53,177.13 L1205.30,178.75 L1206.15,181.37 L1203.92,179.75 L1201.69,181.37 L1202.54,178.75 L1200.31,177.13 L1203.07,177.13Z" fill="#ff7f0e" stroke="#ff7f0e" stroke-width="1.0" stroke-linejoin="miter"/>
<path d="M1238.24,174.50 L1239.09,177.13 L1241.85,177.13 L1239.62,178.75 L1240.47,181.37 L1238.24,179.75 L1236.01,181.37 L1236.86,178.75 L1234.63,177.13 L1237.39,177.13Z" fill="#ff7f0e" stroke="#ff7f0e" stroke-width="1.0" stroke-linejoin="miter"/>
<path d="M1272.56,174.50 L1273.41,177.13 L1276.17,177.13 L1273.94,178.75 L1274.79,181.37 L1272.56,179.75 L1270.33,181.37 L1271.18,178.75 L1268.95,177.13 L1271.71,177.13Z" fill="#ff7f0e" stroke="#ff7f0e" stroke-width="1.0" stroke-linejoin="miter"/>
<path d="M1306.88,174.50 L1307.73,177.13 L1310.49,177.13 L1308.26,178.75 L1309.11,181.37 L1306.88,179.75 L1304.65,181.37 L1305.50,178.75 L1303.27,177.13 L1306.03,177.13Z" fill="#ff7f0e" stroke="#ff7f0e" stroke-width="1.0" stroke-linejoin="miter"/>
<path d="M1341.20,174.50 L1342.05,177.13 L1344.81,177.13 L1342.58,178.75 L1343.43,181.37 L1341.20,179.75 L1338.97,181.37 L1339.82,178.75 L1337.59,177.13 L1340.35,177.13Z" fill="#ff7f0e" stroke="#ff7f0e" stroke-width="1.0" stroke-linejoin="miter"/>
<path d="M826.40,23.60 L827.20,24.11 L828.32,24.81 L829.64,25.64 L831.03,26.57 L832.36,27.53 L833.50,28.50 L834.46,29.47 L835.35,30.47 L836.17,31.51 L836.96,32.61 L837.73,33.77 L838.50,35.00 L839.23,36.23 L839.90,37.44 L840.54,38.71 L841.21,40.12 L841.95,41.76 L842.80,43.70 L843.78,46.03 L844.86,48.70 L846.00,51.59 L847.18,54.60 L848.36,57.61 L849.50,60.50 L850.63,63.41 L851.77,66.44 L852.91,69.47 L854.03,72.37 L855.14,75.03 L856.20,77.30 L857.19,79.11 L858.12,80.53 L859.02,81.70 L859.94,82.75 L860.92,83.80 L862.00,85.00 L863.21,86.33 L864.51,87.67 L865.87,89.03 L867.26,90.38 L868.65,91.71 L870.00,93.00 L870.82,93.90 L871.03,94.35 L871.23,94.78 L872.04,95.61 L874.06,97.28 L877.90,100.20 L883.98,104.67 L891.89,110.41 L901.01,116.98 L910.72,123.94 L920.39,130.86 L929.40,137.30 L937.80,143.31 L946.10,149.24 L954.37,155.13 L962.65,161.01 L971.01,166.92 L979.50,172.90 L988.16,178.96 L996.95,185.08 L1005.82,191.23 L1014.70,197.38 L1023.55,203.51 L1032.30,209.60 L1040.95,215.64 L1049.54,221.66 L1058.10,227.65 L1066.64,233.63 L1075.18,239.61 L1083.75,245.60 L1092.36,251.57 L1100.99,257.51 L1109.63,263.46 L1118.26,269.42 L1126.86,275.43 L1135.40,281.50 L1143.86,287.68 L1152.26,293.96 L1160.62,300.27 L1168.98,306.59 L1177.40,312.85 L1185.90,319.00 L1194.51,325.10 L1203.21,331.19 L1211.96,337.22 L1220.71,343.15 L1229.44,348.92 L1238.10,354.50 L1247.28,360.17 L1257.14,366.02 L1266.96,371.72 L1276.06,376.93 L1283.74,381.30 L1289.30,384.50 L1341.20,406.60" fill="none" stroke="#2ca02c" stroke-width="4.8" stroke-dasharray="17.4 7.84" stroke-dashoffset="0.26" stroke-linecap="butt" stroke-linejoin="round"/>
<path d="M822.80,23.60 L830.00,23.60 M826.40,20.00 L826.40,27.20" stroke="#2ca02c" stroke-width="1.7" fill="none"/>
<path d="M874.28,100.18 L881.48,100.18 M877.88,96.58 L877.88,103.78" stroke="#2ca02c" stroke-width="1.7" fill="none"/>
<path d="M925.76,137.27 L932.96,137.27 M929.36,133.67 L929.36,140.87" stroke="#2ca02c" stroke-width="1.7" fill="none"/>
<path d="M977.24,173.84 L984.44,173.84 M980.84,170.24 L980.84,177.44" stroke="#2ca02c" stroke-width="1.7" fill="none"/>
<path d="M1028.72,209.61 L1035.92,209.61 M1032.32,206.01 L1032.32,213.21" stroke="#2ca02c" stroke-width="1.7" fill="none"/>
<path d="M1080.20,245.63 L1087.40,245.63 M1083.80,242.03 L1083.80,249.23" stroke="#2ca02c" stroke-width="1.7" fill="none"/>
<path d="M1131.68,281.41 L1138.88,281.41 M1135.28,277.81 L1135.28,285.01" stroke="#2ca02c" stroke-width="1.7" fill="none"/>
<path d="M1183.16,319.61 L1190.36,319.61 M1186.76,316.01 L1186.76,323.21" stroke="#2ca02c" stroke-width="1.7" fill="none"/>
<path d="M1234.64,354.59 L1241.84,354.59 M1238.24,350.99 L1238.24,358.19" stroke="#2ca02c" stroke-width="1.7" fill="none"/>
<path d="M1286.12,384.68 L1293.32,384.68 M1289.72,381.08 L1289.72,388.28" stroke="#2ca02c" stroke-width="1.7" fill="none"/>
<path d="M1337.60,406.60 L1344.80,406.60 M1341.20,403.00 L1341.20,410.20" stroke="#2ca02c" stroke-width="1.7" fill="none"/>
<path d="M826.40,23.60 L826.52,24.96 L826.67,26.79 L826.85,28.98 L827.07,31.43 L827.32,34.04 L827.60,36.70 L827.92,39.49 L828.29,42.52 L828.68,45.71 L829.10,48.97 L829.55,52.22 L830.00,55.40 L830.47,58.50 L830.96,61.60 L831.46,64.69 L831.99,67.79 L832.53,70.89 L833.10,74.00 L833.69,77.12 L834.30,80.26 L834.93,83.39 L835.58,86.53 L836.24,89.67 L836.90,92.80 L837.59,95.98 L838.31,99.21 L839.04,102.45 L839.77,105.62 L840.46,108.66 L841.10,111.50 L841.61,113.89 L842.00,115.83 L842.35,117.64 L842.77,119.64 L843.35,122.15 L844.20,125.50 L845.42,130.11 L846.97,135.80 L848.69,142.00 L850.40,148.15 L851.96,153.67 L853.20,158.00 L854.09,160.98 L854.75,163.04 L855.26,164.47 L855.67,165.57 L856.06,166.65 L856.50,168.00 L856.95,169.48 L857.36,170.84 L857.74,172.16 L858.13,173.56 L858.54,175.14 L859.00,177.00 L859.50,179.14 L860.02,181.47 L860.56,183.98 L861.14,186.64 L861.75,189.46 L862.40,192.40 L863.11,195.58 L863.87,199.02 L864.67,202.61 L865.49,206.22 L866.30,209.73 L867.10,213.00 L867.85,216.06 L868.56,219.02 L869.28,221.87 L870.03,224.61 L870.85,227.26 L871.80,229.80 L872.87,232.30 L874.05,234.76 L875.30,237.12 L876.61,239.31 L877.95,241.26 L879.30,242.90 L880.58,244.16 L881.80,245.09 L883.06,245.78 L884.44,246.31 L886.06,246.79 L888.00,247.30 L890.14,247.82 L892.39,248.26 L894.86,248.64 L897.69,248.98 L901.03,249.29 L905.00,249.60 L909.73,249.89 L915.15,250.14 L921.06,250.37 L927.30,250.58 L933.67,250.79 L940.00,251.00 L946.15,251.22 L952.22,251.43 L958.44,251.63 L965.00,251.83 L972.12,252.02 L980.00,252.20 L988.84,252.37 L998.52,252.54 L1008.75,252.71 L1019.26,252.86 L1029.77,252.99 L1040.00,253.10 L1050.69,253.19 L1062.22,253.26 L1073.75,253.31 L1084.44,253.34 L1093.47,253.37 L1100.00,253.40 L1341.20,253.40" fill="none" stroke="#d62728" stroke-width="4.8" stroke-dasharray="17.4 7.84" stroke-dashoffset="7.11" stroke-linecap="butt" stroke-linejoin="round"/>
<circle cx="826.40" cy="23.60" r="4.8" fill="#d62728"/>
<circle cx="890.75" cy="247.93" r="4.8" fill="#d62728"/>
<circle cx="955.10" cy="251.52" r="4.8" fill="#d62728"/>
<circle cx="1019.45" cy="252.86" r="4.8" fill="#d62728"/>
<circle cx="1083.80" cy="253.34" r="4.8" fill="#d62728"/>
<circle cx="1148.15" cy="253.40" r="4.8" fill="#d62728"/>
<circle cx="1212.50" cy="253.40" r="4.8" fill="#d62728"/>
<circle cx="1276.85" cy="253.40" r="4.8" fill="#d62728"/>
<circle cx="1341.20" cy="253.40" r="4.8" fill="#d62728"/>
<path d="M826.40,23.60 L826.48,24.96 L826.58,26.79 L826.71,28.98 L826.86,31.43 L827.06,34.04 L827.30,36.70 L827.59,39.49 L827.94,42.52 L828.32,45.71 L828.73,48.97 L829.16,52.22 L829.60,55.40 L830.05,58.50 L830.52,61.60 L831.01,64.69 L831.52,67.79 L832.05,70.89 L832.60,74.00 L833.17,77.12 L833.77,80.26 L834.38,83.39 L835.01,86.53 L835.65,89.67 L836.30,92.80 L836.97,95.98 L837.68,99.21 L838.39,102.45 L839.10,105.62 L839.78,108.66 L840.40,111.50 L840.90,113.89 L841.26,115.83 L841.60,117.64 L842.00,119.64 L842.57,122.15 L843.40,125.50 L844.61,130.12 L846.14,135.83 L847.84,142.06 L849.54,148.22 L851.08,153.73 L852.30,158.00 L853.17,160.90 L853.80,162.87 L854.27,164.19 L854.66,165.13 L855.04,165.97 L855.50,167.00 L855.99,168.15 L856.46,169.20 L856.92,170.16 L857.40,171.02 L857.92,171.80 L858.50,172.50 L859.08,173.12 L859.61,173.64 L860.19,174.08 L860.89,174.44 L861.80,174.75 L863.00,175.00 L864.42,175.18 L865.96,175.27 L867.72,175.31 L869.76,175.30 L872.16,175.29 L875.00,175.30 L878.70,175.32 L883.30,175.32 L888.25,175.32 L893.04,175.31 L897.13,175.30 L900.00,175.30 L1341.20,175.30" fill="none" stroke="#9467bd" stroke-width="4.8" stroke-linecap="square" stroke-linejoin="round"/>
<path d="M826.40,25.80 L826.40,28.60" stroke="#7a57a8" stroke-width="1.1" fill="none"/>
<path d="M877.88,177.51 L877.88,180.31" stroke="#7a57a8" stroke-width="1.1" fill="none"/>
<path d="M929.36,177.50 L929.36,180.30" stroke="#7a57a8" stroke-width="1.1" fill="none"/>
<path d="M980.84,177.50 L980.84,180.30" stroke="#7a57a8" stroke-width="1.1" fill="none"/>
<path d="M1032.32,177.50 L1032.32,180.30" stroke="#7a57a8" stroke-width="1.1" fill="none"/>
<path d="M1083.80,177.50 L1083.80,180.30" stroke="#7a57a8" stroke-width="1.1" fill="none"/>
<path d="M1135.28,177.50 L1135.28,180.30" stroke="#7a57a8" stroke-width="1.1" fill="none"/>
<path d="M1186.76,177.50 L1186.76,180.30" stroke="#7a57a8" stroke-width="1.1" fill="none"/>
<path d="M1238.24,177.50 L1238.24,180.30" stroke="#7a57a8" stroke-width="1.1" fill="none"/>
<path d="M1289.72,177.50 L1289.72,180.30" stroke="#7a57a8" stroke-width="1.1" fill="none"/>
<path d="M1341.20,177.50 L1341.20,180.30" stroke="#7a57a8" stroke-width="1.1" fill="none"/>
<path d="M826.40,23.60 L827.20,24.11 L828.32,24.81 L829.64,25.64 L831.03,26.57 L832.36,27.53 L833.50,28.50 L834.46,29.47 L835.35,30.47 L836.17,31.51 L836.96,32.61 L837.73,33.77 L838.50,35.00 L839.23,36.23 L839.90,37.44 L840.54,38.71 L841.21,40.12 L841.95,41.76 L842.80,43.70 L843.78,46.03 L844.86,48.70 L846.00,51.59 L847.18,54.60 L848.36,57.61 L849.50,60.50 L850.63,63.41 L851.77,66.44 L852.91,69.47 L854.03,72.37 L855.14,75.03 L856.20,77.30 L857.19,79.11 L858.12,80.53 L859.02,81.70 L859.94,82.75 L860.92,83.80 L862.00,85.00 L863.21,86.33 L864.51,87.67 L865.87,89.03 L867.26,90.38 L868.65,91.71 L870.00,93.00 L870.82,93.90 L871.03,94.35 L871.23,94.78 L872.04,95.61 L874.06,97.28 L877.90,100.20 L883.98,104.67 L891.89,110.41 L901.01,116.98 L910.72,123.94 L920.39,130.86 L929.40,137.30 L938.27,143.65 L947.60,150.33 L956.89,156.98 L965.64,163.20 L973.34,168.63 L979.50,172.90 L983.75,175.75 L986.43,177.42 L988.07,178.30 L989.19,178.77 L990.32,179.21 L992.00,180.00 L994.12,181.07 L996.23,182.10 L998.36,183.10 L1000.51,184.08 L1002.72,185.04 L1005.00,186.00 L1007.36,186.98 L1009.79,187.98 L1012.26,188.97 L1014.77,189.91 L1017.29,190.76 L1019.80,191.50 L1022.32,192.11 L1024.86,192.62 L1027.41,193.05 L1029.96,193.41 L1032.49,193.72 L1035.00,194.00 L1037.30,194.23 L1039.36,194.39 L1041.41,194.50 L1043.66,194.58 L1046.35,194.64 L1049.70,194.70 L1054.20,194.75 L1059.77,194.78 L1065.77,194.79 L1071.57,194.80 L1076.52,194.80 L1080.00,194.80 L1341.20,194.50" fill="none" stroke="#8c564b" stroke-width="4.8" stroke-linecap="square" stroke-linejoin="round"/>
<circle cx="826.40" cy="23.60" r="4.8" fill="#8c564b"/>
<circle cx="877.88" cy="100.18" r="4.8" fill="#8c564b"/>
<circle cx="929.36" cy="137.27" r="4.8" fill="#8c564b"/>
<circle cx="980.84" cy="173.80" r="4.8" fill="#8c564b"/>
<circle cx="1032.32" cy="193.70" r="4.8" fill="#8c564b"/>
<circle cx="1083.80" cy="194.80" r="4.8" fill="#8c564b"/>
<circle cx="1135.28" cy="194.74" r="4.8" fill="#8c564b"/>
<circle cx="1186.76" cy="194.68" r="4.8" fill="#8c564b"/>
<circle cx="1238.24" cy="194.62" r="4.8" fill="#8c564b"/>
<circle cx="1289.72" cy="194.56" r="4.8" fill="#8c564b"/>
<circle cx="1341.20" cy="194.50" r="4.8" fill="#8c564b"/></g>
<rect x="810.9" y="176.7" width="288.69999999999993" height="239.40000000000003" rx="3" ry="3" fill="#fff" fill-opacity="0.8" stroke="#cccccc" stroke-opacity="0.8" stroke-width="1.1"/>
<path d="M818.20,201.10 L860.80,201.10" fill="none" stroke="#1f77b4" stroke-width="1.7" stroke-linecap="square" stroke-linejoin="round"/>
<path d="M839.50,201.10 L839.50,193.50 M839.50,201.10 L832.92,204.90 M839.50,201.10 L846.08,204.90" stroke="#1f77b4" stroke-width="1.7" fill="none"/>
<rect x="978.10" y="198.50" width="13.0" height="1.65" fill="#000"/>
<rect x="978.10" y="202.60" width="13.0" height="1.65" fill="#000"/>
<path d="M1024.96,188.20 L1027.86,185.10 L1030.76,188.20" stroke="#000" stroke-width="1.3" fill="none"/>
<rect x="1038.80" y="198.90" width="13.10" height="1.6" fill="#000"/>
<rect x="1038.80" y="202.90" width="13.10" height="1.6" fill="#000"/>
<path d="M818.20,240.12 L860.80,240.12" fill="none" stroke="#ff7f0e" stroke-width="1.7" stroke-linecap="square" stroke-linejoin="round"/>
<path d="M839.50,236.32 L840.35,238.95 L843.11,238.95 L840.88,240.57 L841.73,243.19 L839.50,241.57 L837.27,243.19 L838.12,240.57 L835.89,238.95 L838.65,238.95Z" fill="#ff7f0e" stroke="#ff7f0e" stroke-width="1.0" stroke-linejoin="miter"/>
<rect x="978.10" y="237.52" width="13.0" height="1.65" fill="#000"/>
<rect x="978.10" y="241.62" width="13.0" height="1.65" fill="#000"/>
<path d="M1024.96,227.22 L1027.86,224.12 L1030.76,227.22" stroke="#000" stroke-width="1.3" fill="none"/>
<rect x="1038.80" y="237.92" width="13.10" height="1.6" fill="#000"/>
<rect x="1038.80" y="241.92" width="13.10" height="1.6" fill="#000"/>
<path d="M818.2,279.14 L860.8,279.14" stroke="#2ca02c" stroke-width="4.8" stroke-dasharray="17.4 7.84" fill="none"/>
<path d="M835.90,279.14 L843.10,279.14 M839.50,275.54 L839.50,282.74" stroke="#2ca02c" stroke-width="1.7" fill="none"/>
<rect x="973.00" y="276.54" width="13.0" height="1.65" fill="#000"/>
<rect x="973.00" y="280.64" width="13.0" height="1.65" fill="#000"/>
<path d="M1019.86,266.24 L1022.76,263.14 L1025.66,266.24" stroke="#000" stroke-width="1.3" fill="none"/>
<rect x="1033.70" y="276.94" width="13.10" height="1.6" fill="#000"/>
<rect x="1033.70" y="280.94" width="13.10" height="1.6" fill="#000"/>
<path d="M818.2,318.16 L860.8,318.16" stroke="#d62728" stroke-width="4.8" stroke-dasharray="17.4 7.84" fill="none"/>
<circle cx="839.50" cy="318.16" r="4.8" fill="#d62728"/>
<rect x="973.00" y="315.56" width="13.0" height="1.65" fill="#000"/>
<rect x="973.00" y="319.66" width="13.0" height="1.65" fill="#000"/>
<path d="M1019.86,305.26 L1022.76,302.16 L1025.66,305.26" stroke="#000" stroke-width="1.3" fill="none"/>
<rect x="1033.70" y="315.96" width="13.10" height="1.6" fill="#000"/>
<rect x="1033.70" y="319.96" width="13.10" height="1.6" fill="#000"/>
<path d="M818.20,357.18 L860.80,357.18" fill="none" stroke="#9467bd" stroke-width="4.8" stroke-linecap="square" stroke-linejoin="round"/>
<path d="M839.50,358.68 L839.50,361.18" stroke="#6a4a90" stroke-width="1" fill="none"/>
<rect x="942.90" y="354.58" width="13.0" height="1.65" fill="#000"/>
<rect x="942.90" y="358.68" width="13.0" height="1.65" fill="#000"/>
<path d="M989.76,344.28 L992.66,341.18 L995.56,344.28" stroke="#000" stroke-width="1.3" fill="none"/>
<rect x="1003.60" y="354.98" width="13.10" height="1.6" fill="#000"/>
<rect x="1003.60" y="358.98" width="13.10" height="1.6" fill="#000"/>
<path d="M818.20,396.20 L860.80,396.20" fill="none" stroke="#8c564b" stroke-width="4.8" stroke-linecap="square" stroke-linejoin="round"/>
<circle cx="839.50" cy="396.20" r="4.8" fill="#8c564b"/>
<rect x="942.90" y="393.60" width="13.0" height="1.65" fill="#000"/>
<rect x="942.90" y="397.70" width="13.0" height="1.65" fill="#000"/>
<path d="M989.76,383.30 L992.66,380.20 L995.56,383.30" stroke="#000" stroke-width="1.3" fill="none"/>
<rect x="1003.60" y="394.00" width="13.10" height="1.6" fill="#000"/>
<rect x="1003.60" y="398.00" width="13.10" height="1.6" fill="#000"/>
<rect x="800.5" y="4.5" width="566.9000000000001" height="421.7" fill="none" stroke="#000" stroke-width="1.5" stroke-linejoin="miter"/>
<path d="M826.40,426.2 L826.40,432.2" stroke="#000" stroke-width="1.3"/>
<path d="M955.10,426.2 L955.10,432.2" stroke="#000" stroke-width="1.3"/>
<path d="M1083.80,426.2 L1083.80,432.2" stroke="#000" stroke-width="1.3"/>
<path d="M1212.50,426.2 L1212.50,432.2" stroke="#000" stroke-width="1.3"/>
<path d="M1341.20,426.2 L1341.20,432.2" stroke="#000" stroke-width="1.3"/>
<path d="M797.1,418.39 L800.5,418.39" stroke="#000" stroke-width="1.0"/>
<path d="M797.1,410.18 L800.5,410.18" stroke="#000" stroke-width="1.0"/>
<path d="M797.1,403.80 L800.5,403.80" stroke="#000" stroke-width="1.0"/>
<path d="M797.1,398.59 L800.5,398.59" stroke="#000" stroke-width="1.0"/>
<path d="M797.1,394.19 L800.5,394.19" stroke="#000" stroke-width="1.0"/>
<path d="M797.1,390.37 L800.5,390.37" stroke="#000" stroke-width="1.0"/>
<path d="M797.1,387.01 L800.5,387.01" stroke="#000" stroke-width="1.0"/>
<path d="M794.5,384.00 L800.5,384.00" stroke="#000" stroke-width="1.3"/>
<path d="M797.1,364.20 L800.5,364.20" stroke="#000" stroke-width="1.0"/>
<path d="M797.1,352.61 L800.5,352.61" stroke="#000" stroke-width="1.0"/>
<path d="M797.1,344.40 L800.5,344.40" stroke="#000" stroke-width="1.0"/>
<path d="M797.1,338.02 L800.5,338.02" stroke="#000" stroke-width="1.0"/>
<path d="M797.1,332.81 L800.5,332.81" stroke="#000" stroke-width="1.0"/>
<path d="M797.1,328.41 L800.5,328.41" stroke="#000" stroke-width="1.0"/>
<path d="M797.1,324.59 L800.5,324.59" stroke="#000" stroke-width="1.0"/>
<path d="M797.1,321.23 L800.5,321.23" stroke="#000" stroke-width="1.0"/>
<path d="M794.5,318.22 L800.5,318.22" stroke="#000" stroke-width="1.3"/>
<path d="M797.1,298.42 L800.5,298.42" stroke="#000" stroke-width="1.0"/>
<path d="M797.1,286.83 L800.5,286.83" stroke="#000" stroke-width="1.0"/>
<path d="M797.1,278.62 L800.5,278.62" stroke="#000" stroke-width="1.0"/>
<path d="M797.1,272.24 L800.5,272.24" stroke="#000" stroke-width="1.0"/>
<path d="M797.1,267.03 L800.5,267.03" stroke="#000" stroke-width="1.0"/>
<path d="M797.1,262.63 L800.5,262.63" stroke="#000" stroke-width="1.0"/>
<path d="M797.1,258.81 L800.5,258.81" stroke="#000" stroke-width="1.0"/>
<path d="M797.1,255.45 L800.5,255.45" stroke="#000" stroke-width="1.0"/>
<path d="M794.5,252.44 L800.5,252.44" stroke="#000" stroke-width="1.3"/>
<path d="M797.1,232.64 L800.5,232.64" stroke="#000" stroke-width="1.0"/>
<path d="M797.1,221.05 L800.5,221.05" stroke="#000" stroke-width="1.0"/>
<path d="M797.1,212.84 L800.5,212.84" stroke="#000" stroke-width="1.0"/>
<path d="M797.1,206.46 L800.5,206.46" stroke="#000" stroke-width="1.0"/>
<path d="M797.1,201.25 L800.5,201.25" stroke="#000" stroke-width="1.0"/>
<path d="M797.1,196.85 L800.5,196.85" stroke="#000" stroke-width="1.0"/>
<path d="M797.1,193.03 L800.5,193.03" stroke="#000" stroke-width="1.0"/>
<path d="M797.1,189.67 L800.5,189.67" stroke="#000" stroke-width="1.0"/>
<path d="M794.5,186.66 L800.5,186.66" stroke="#000" stroke-width="1.3"/>
<path d="M797.1,166.86 L800.5,166.86" stroke="#000" stroke-width="1.0"/>
<path d="M797.1,155.27 L800.5,155.27" stroke="#000" stroke-width="1.0"/>
<path d="M797.1,147.06 L800.5,147.06" stroke="#000" stroke-width="1.0"/>
<path d="M797.1,140.68 L800.5,140.68" stroke="#000" stroke-width="1.0"/>
<path d="M797.1,135.47 L800.5,135.47" stroke="#000" stroke-width="1.0"/>
<path d="M797.1,131.07 L800.5,131.07" stroke="#000" stroke-width="1.0"/>
<path d="M797.1,127.25 L800.5,127.25" stroke="#000" stroke-width="1.0"/>
<path d="M797.1,123.89 L800.5,123.89" stroke="#000" stroke-width="1.0"/>
<path d="M794.5,120.88 L800.5,120.88" stroke="#000" stroke-width="1.3"/>
<path d="M797.1,101.08 L800.5,101.08" stroke="#000" stroke-width="1.0"/>
<path d="M797.1,89.49 L800.5,89.49" stroke="#000" stroke-width="1.0"/>
<path d="M797.1,81.28 L800.5,81.28" stroke="#000" stroke-width="1.0"/>
<path d="M797.1,74.90 L800.5,74.90" stroke="#000" stroke-width="1.0"/>
<path d="M797.1,69.69 L800.5,69.69" stroke="#000" stroke-width="1.0"/>
<path d="M797.1,65.29 L800.5,65.29" stroke="#000" stroke-width="1.0"/>
<path d="M797.1,61.47 L800.5,61.47" stroke="#000" stroke-width="1.0"/>
<path d="M797.1,58.11 L800.5,58.11" stroke="#000" stroke-width="1.0"/>
<path d="M794.5,55.10 L800.5,55.10" stroke="#000" stroke-width="1.3"/>
<path d="M797.1,35.30 L800.5,35.30" stroke="#000" stroke-width="1.0"/>
<path d="M797.1,23.71 L800.5,23.71" stroke="#000" stroke-width="1.0"/>
<path d="M797.1,15.50 L800.5,15.50" stroke="#000" stroke-width="1.0"/>
<path d="M797.1,9.12 L800.5,9.12" stroke="#000" stroke-width="1.0"/>
<rect x="764.3" y="114.88" width="10.8" height="1.5" fill="#000"/>
<rect x="764.3" y="180.66" width="10.8" height="1.5" fill="#000"/>
<rect x="764.3" y="246.44" width="10.8" height="1.5" fill="#000"/>
<rect x="764.3" y="312.22" width="10.8" height="1.5" fill="#000"/>
<rect x="764.3" y="378.00" width="10.8" height="1.5" fill="#000"/>
<rect x="334.0" y="517.25" width="19.2" height="1.5" fill="#111"/>
<rect x="334.0" y="523.25" width="19.2" height="1.5" fill="#111"/>
<rect x="1065.8" y="517.25" width="19.2" height="1.5" fill="#111"/>
<rect x="1065.8" y="523.25" width="19.2" height="1.5" fill="#111"/>
<text x="145.27" y="246.60" font-family="Liberation Sans" font-size="21.8" stroke="#000" stroke-width="0.15" textLength="85.20" lengthAdjust="spacingAndGlyphs" fill="#000">DRDGD,</text>
<text x="236.90" y="246.60" font-family="Liberation Sans" font-size="21.8" stroke="#000" stroke-width="0.15" textLength="7.38" lengthAdjust="spacingAndGlyphs" fill="#000">t</text>
<text x="262.50" y="246.60" font-family="Liberation Sans" font-size="21.8" stroke="#000" stroke-width="0.15" textLength="11.80" lengthAdjust="spacingAndGlyphs" fill="#000">1</text>
<text x="275.00" y="246.60" font-family="Liberation Sans" font-size="21.8" stroke="#000" stroke-width="0.15" textLength="6.06" lengthAdjust="spacingAndGlyphs" fill="#000">,</text>
<text x="288.88" y="246.60" font-family="Liberation Sans" font-size="21.8" font-style="italic" stroke="#000" stroke-width="0.15" textLength="11.96" lengthAdjust="spacingAndGlyphs" fill="#000">β</text>
<text x="327.03" y="246.60" font-family="Liberation Sans" font-size="21.8" stroke="#000" stroke-width="0.15" textLength="31.27" lengthAdjust="spacingAndGlyphs" fill="#000">0.1</text>
<text x="145.27" y="285.60" font-family="Liberation Sans" font-size="21.8" stroke="#000" stroke-width="0.15" textLength="85.20" lengthAdjust="spacingAndGlyphs" fill="#000">DRDGD,</text>
<text x="236.90" y="285.60" font-family="Liberation Sans" font-size="21.8" stroke="#000" stroke-width="0.15" textLength="7.38" lengthAdjust="spacingAndGlyphs" fill="#000">t</text>
<text x="262.50" y="285.60" font-family="Liberation Sans" font-size="21.8" stroke="#000" stroke-width="0.15" textLength="11.80" lengthAdjust="spacingAndGlyphs" fill="#000">1</text>
<text x="275.00" y="285.60" font-family="Liberation Sans" font-size="21.8" stroke="#000" stroke-width="0.15" textLength="6.06" lengthAdjust="spacingAndGlyphs" fill="#000">,</text>
<text x="288.88" y="285.60" font-family="Liberation Sans" font-size="21.8" font-style="italic" stroke="#000" stroke-width="0.15" textLength="11.96" lengthAdjust="spacingAndGlyphs" fill="#000">β</text>
<text x="327.03" y="285.60" font-family="Liberation Sans" font-size="21.8" stroke="#000" stroke-width="0.15" textLength="31.00" lengthAdjust="spacingAndGlyphs" fill="#000">0.5</text>
<text x="145.26" y="324.60" font-family="Liberation Sans" font-size="21.8" stroke="#000" stroke-width="0.15" textLength="80.21" lengthAdjust="spacingAndGlyphs" fill="#000">DRGTA,</text>
<text x="231.80" y="324.60" font-family="Liberation Sans" font-size="21.8" stroke="#000" stroke-width="0.15" textLength="7.38" lengthAdjust="spacingAndGlyphs" fill="#000">t</text>
<text x="257.40" y="324.60" font-family="Liberation Sans" font-size="21.8" stroke="#000" stroke-width="0.15" textLength="11.80" lengthAdjust="spacingAndGlyphs" fill="#000">1</text>
<text x="269.90" y="324.60" font-family="Liberation Sans" font-size="21.8" stroke="#000" stroke-width="0.15" textLength="6.06" lengthAdjust="spacingAndGlyphs" fill="#000">,</text>
<text x="283.78" y="324.60" font-family="Liberation Sans" font-size="21.8" font-style="italic" stroke="#000" stroke-width="0.15" textLength="11.96" lengthAdjust="spacingAndGlyphs" fill="#000">β</text>
<text x="321.93" y="324.60" font-family="Liberation Sans" font-size="21.8" stroke="#000" stroke-width="0.15" textLength="31.27" lengthAdjust="spacingAndGlyphs" fill="#000">0.1</text>
<text x="145.26" y="363.60" font-family="Liberation Sans" font-size="21.8" stroke="#000" stroke-width="0.15" textLength="80.21" lengthAdjust="spacingAndGlyphs" fill="#000">DRGTA,</text>
<text x="231.80" y="363.60" font-family="Liberation Sans" font-size="21.8" stroke="#000" stroke-width="0.15" textLength="7.38" lengthAdjust="spacingAndGlyphs" fill="#000">t</text>
<text x="257.40" y="363.60" font-family="Liberation Sans" font-size="21.8" stroke="#000" stroke-width="0.15" textLength="11.80" lengthAdjust="spacingAndGlyphs" fill="#000">1</text>
<text x="269.90" y="363.60" font-family="Liberation Sans" font-size="21.8" stroke="#000" stroke-width="0.15" textLength="6.06" lengthAdjust="spacingAndGlyphs" fill="#000">,</text>
<text x="283.78" y="363.60" font-family="Liberation Sans" font-size="21.8" font-style="italic" stroke="#000" stroke-width="0.15" textLength="11.96" lengthAdjust="spacingAndGlyphs" fill="#000">β</text>
<text x="321.93" y="363.60" font-family="Liberation Sans" font-size="21.8" stroke="#000" stroke-width="0.15" textLength="31.00" lengthAdjust="spacingAndGlyphs" fill="#000">0.5</text>
<text x="145.26" y="402.60" font-family="Liberation Sans" font-size="21.8" stroke="#000" stroke-width="0.15" textLength="50.50" lengthAdjust="spacingAndGlyphs" fill="#000">DSA,</text>
<text x="201.70" y="402.60" font-family="Liberation Sans" font-size="21.8" stroke="#000" stroke-width="0.15" textLength="7.38" lengthAdjust="spacingAndGlyphs" fill="#000">t</text>
<text x="227.30" y="402.60" font-family="Liberation Sans" font-size="21.8" stroke="#000" stroke-width="0.15" textLength="11.80" lengthAdjust="spacingAndGlyphs" fill="#000">1</text>
<text x="239.80" y="402.60" font-family="Liberation Sans" font-size="21.8" stroke="#000" stroke-width="0.15" textLength="6.06" lengthAdjust="spacingAndGlyphs" fill="#000">,</text>
<text x="253.68" y="402.60" font-family="Liberation Sans" font-size="21.8" font-style="italic" stroke="#000" stroke-width="0.15" textLength="11.96" lengthAdjust="spacingAndGlyphs" fill="#000">β</text>
<text x="291.83" y="402.60" font-family="Liberation Sans" font-size="21.8" stroke="#000" stroke-width="0.15" textLength="31.27" lengthAdjust="spacingAndGlyphs" fill="#000">0.1</text>
<text x="87.69" y="455.60" font-family="Liberation Sans" font-size="24.7" stroke="#000" stroke-width="0.15" textLength="15.20" lengthAdjust="spacingAndGlyphs" fill="#000">0</text>
<text x="193.70" y="455.60" font-family="Liberation Sans" font-size="24.7" stroke="#000" stroke-width="0.15" textLength="60.39" lengthAdjust="spacingAndGlyphs" fill="#000">2500</text>
<text x="322.76" y="455.60" font-family="Liberation Sans" font-size="24.7" stroke="#000" stroke-width="0.15" textLength="60.10" lengthAdjust="spacingAndGlyphs" fill="#000">5000</text>
<text x="451.25" y="455.60" font-family="Liberation Sans" font-size="24.7" stroke="#000" stroke-width="0.15" textLength="60.39" lengthAdjust="spacingAndGlyphs" fill="#000">7500</text>
<text x="571.89" y="455.60" font-family="Liberation Sans" font-size="24.7" stroke="#000" stroke-width="0.15" textLength="75.81" lengthAdjust="spacingAndGlyphs" fill="#000">10000</text>
<text x="1.41" y="98.60" font-family="Liberation Sans" font-size="24.7" stroke="#000" stroke-width="0.15" textLength="30.05" lengthAdjust="spacingAndGlyphs" fill="#000">10</text>
<text x="46.18" y="89.60" font-family="Liberation Sans" font-size="17.3" stroke="#000" stroke-width="0.15" textLength="9.37" lengthAdjust="spacingAndGlyphs" fill="#000">1</text>
<text x="1.41" y="189.27" font-family="Liberation Sans" font-size="24.7" stroke="#000" stroke-width="0.15" textLength="30.05" lengthAdjust="spacingAndGlyphs" fill="#000">10</text>
<text x="46.06" y="180.27" font-family="Liberation Sans" font-size="17.3" stroke="#000" stroke-width="0.15" textLength="9.50" lengthAdjust="spacingAndGlyphs" fill="#000">3</text>
<text x="1.41" y="279.93" font-family="Liberation Sans" font-size="24.7" stroke="#000" stroke-width="0.15" textLength="30.05" lengthAdjust="spacingAndGlyphs" fill="#000">10</text>
<text x="46.08" y="270.93" font-family="Liberation Sans" font-size="17.3" stroke="#000" stroke-width="0.15" textLength="9.22" lengthAdjust="spacingAndGlyphs" fill="#000">5</text>
<text x="1.41" y="370.60" font-family="Liberation Sans" font-size="24.7" stroke="#000" stroke-width="0.15" textLength="30.05" lengthAdjust="spacingAndGlyphs" fill="#000">10</text>
<text x="45.78" y="361.60" font-family="Liberation Sans" font-size="17.3" stroke="#000" stroke-width="0.15" textLength="9.81" lengthAdjust="spacingAndGlyphs" fill="#000">7</text>
<text x="304.87" y="484.00" font-family="Liberation Sans" font-size="22.6" stroke="#000" stroke-width="0.15" textLength="95.05" lengthAdjust="spacingAndGlyphs" fill="#000">Iteration</text>
<text x="876.57" y="207.50" font-family="Liberation Sans" font-size="21.8" stroke="#000" stroke-width="0.15" textLength="85.20" lengthAdjust="spacingAndGlyphs" fill="#000">DRDGD,</text>
<text x="968.20" y="207.50" font-family="Liberation Sans" font-size="21.8" stroke="#000" stroke-width="0.15" textLength="7.38" lengthAdjust="spacingAndGlyphs" fill="#000">t</text>
<text x="993.80" y="207.50" font-family="Liberation Sans" font-size="21.8" stroke="#000" stroke-width="0.15" textLength="11.80" lengthAdjust="spacingAndGlyphs" fill="#000">1</text>
<text x="1006.30" y="207.50" font-family="Liberation Sans" font-size="21.8" stroke="#000" stroke-width="0.15" textLength="6.06" lengthAdjust="spacingAndGlyphs" fill="#000">,</text>
<text x="1020.18" y="207.50" font-family="Liberation Sans" font-size="21.8" font-style="italic" stroke="#000" stroke-width="0.15" textLength="11.96" lengthAdjust="spacingAndGlyphs" fill="#000">β</text>
<text x="1058.33" y="207.50" font-family="Liberation Sans" font-size="21.8" stroke="#000" stroke-width="0.15" textLength="31.27" lengthAdjust="spacingAndGlyphs" fill="#000">0.1</text>
<text x="876.57" y="246.52" font-family="Liberation Sans" font-size="21.8" stroke="#000" stroke-width="0.15" textLength="85.20" lengthAdjust="spacingAndGlyphs" fill="#000">DRDGD,</text>
<text x="968.20" y="246.52" font-family="Liberation Sans" font-size="21.8" stroke="#000" stroke-width="0.15" textLength="7.38" lengthAdjust="spacingAndGlyphs" fill="#000">t</text>
<text x="993.80" y="246.52" font-family="Liberation Sans" font-size="21.8" stroke="#000" stroke-width="0.15" textLength="11.80" lengthAdjust="spacingAndGlyphs" fill="#000">1</text>
<text x="1006.30" y="246.52" font-family="Liberation Sans" font-size="21.8" stroke="#000" stroke-width="0.15" textLength="6.06" lengthAdjust="spacingAndGlyphs" fill="#000">,</text>
<text x="1020.18" y="246.52" font-family="Liberation Sans" font-size="21.8" font-style="italic" stroke="#000" stroke-width="0.15" textLength="11.96" lengthAdjust="spacingAndGlyphs" fill="#000">β</text>
<text x="1058.33" y="246.52" font-family="Liberation Sans" font-size="21.8" stroke="#000" stroke-width="0.15" textLength="31.00" lengthAdjust="spacingAndGlyphs" fill="#000">0.5</text>
<text x="876.56" y="285.54" font-family="Liberation Sans" font-size="21.8" stroke="#000" stroke-width="0.15" textLength="80.21" lengthAdjust="spacingAndGlyphs" fill="#000">DRGTA,</text>
<text x="963.10" y="285.54" font-family="Liberation Sans" font-size="21.8" stroke="#000" stroke-width="0.15" textLength="7.38" lengthAdjust="spacingAndGlyphs" fill="#000">t</text>
<text x="988.70" y="285.54" font-family="Liberation Sans" font-size="21.8" stroke="#000" stroke-width="0.15" textLength="11.80" lengthAdjust="spacingAndGlyphs" fill="#000">1</text>
<text x="1001.20" y="285.54" font-family="Liberation Sans" font-size="21.8" stroke="#000" stroke-width="0.15" textLength="6.06" lengthAdjust="spacingAndGlyphs" fill="#000">,</text>
<text x="1015.08" y="285.54" font-family="Liberation Sans" font-size="21.8" font-style="italic" stroke="#000" stroke-width="0.15" textLength="11.96" lengthAdjust="spacingAndGlyphs" fill="#000">β</text>
<text x="1053.23" y="285.54" font-family="Liberation Sans" font-size="21.8" stroke="#000" stroke-width="0.15" textLength="31.27" lengthAdjust="spacingAndGlyphs" fill="#000">0.1</text>
<text x="876.56" y="324.56" font-family="Liberation Sans" font-size="21.8" stroke="#000" stroke-width="0.15" textLength="80.21" lengthAdjust="spacingAndGlyphs" fill="#000">DRGTA,</text>
<text x="963.10" y="324.56" font-family="Liberation Sans" font-size="21.8" stroke="#000" stroke-width="0.15" textLength="7.38" lengthAdjust="spacingAndGlyphs" fill="#000">t</text>
<text x="988.70" y="324.56" font-family="Liberation Sans" font-size="21.8" stroke="#000" stroke-width="0.15" textLength="11.80" lengthAdjust="spacingAndGlyphs" fill="#000">1</text>
<text x="1001.20" y="324.56" font-family="Liberation Sans" font-size="21.8" stroke="#000" stroke-width="0.15" textLength="6.06" lengthAdjust="spacingAndGlyphs" fill="#000">,</text>
<text x="1015.08" y="324.56" font-family="Liberation Sans" font-size="21.8" font-style="italic" stroke="#000" stroke-width="0.15" textLength="11.96" lengthAdjust="spacingAndGlyphs" fill="#000">β</text>
<text x="1053.23" y="324.56" font-family="Liberation Sans" font-size="21.8" stroke="#000" stroke-width="0.15" textLength="31.00" lengthAdjust="spacingAndGlyphs" fill="#000">0.5</text>
<text x="876.56" y="363.58" font-family="Liberation Sans" font-size="21.8" stroke="#000" stroke-width="0.15" textLength="50.50" lengthAdjust="spacingAndGlyphs" fill="#000">DSA,</text>
<text x="933.00" y="363.58" font-family="Liberation Sans" font-size="21.8" stroke="#000" stroke-width="0.15" textLength="7.38" lengthAdjust="spacingAndGlyphs" fill="#000">t</text>
<text x="958.60" y="363.58" font-family="Liberation Sans" font-size="21.8" stroke="#000" stroke-width="0.15" textLength="11.80" lengthAdjust="spacingAndGlyphs" fill="#000">1</text>
<text x="971.10" y="363.58" font-family="Liberation Sans" font-size="21.8" stroke="#000" stroke-width="0.15" textLength="6.06" lengthAdjust="spacingAndGlyphs" fill="#000">,</text>
<text x="984.98" y="363.58" font-family="Liberation Sans" font-size="21.8" font-style="italic" stroke="#000" stroke-width="0.15" textLength="11.96" lengthAdjust="spacingAndGlyphs" fill="#000">β</text>
<text x="1023.13" y="363.58" font-family="Liberation Sans" font-size="21.8" stroke="#000" stroke-width="0.15" textLength="31.00" lengthAdjust="spacingAndGlyphs" fill="#000">0.5</text>
<text x="876.56" y="402.60" font-family="Liberation Sans" font-size="21.8" stroke="#000" stroke-width="0.15" textLength="50.50" lengthAdjust="spacingAndGlyphs" fill="#000">DSA,</text>
<text x="933.00" y="402.60" font-family="Liberation Sans" font-size="21.8" stroke="#000" stroke-width="0.15" textLength="7.38" lengthAdjust="spacingAndGlyphs" fill="#000">t</text>
<text x="958.60" y="402.60" font-family="Liberation Sans" font-size="21.8" stroke="#000" stroke-width="0.15" textLength="11.80" lengthAdjust="spacingAndGlyphs" fill="#000">1</text>
<text x="971.10" y="402.60" font-family="Liberation Sans" font-size="21.8" stroke="#000" stroke-width="0.15" textLength="6.06" lengthAdjust="spacingAndGlyphs" fill="#000">,</text>
<text x="984.98" y="402.60" font-family="Liberation Sans" font-size="21.8" font-style="italic" stroke="#000" stroke-width="0.15" textLength="11.96" lengthAdjust="spacingAndGlyphs" fill="#000">β</text>
<text x="1023.13" y="402.60" font-family="Liberation Sans" font-size="21.8" stroke="#000" stroke-width="0.15" textLength="31.27" lengthAdjust="spacingAndGlyphs" fill="#000">0.1</text>
<text x="818.79" y="455.60" font-family="Liberation Sans" font-size="24.7" stroke="#000" stroke-width="0.15" textLength="15.20" lengthAdjust="spacingAndGlyphs" fill="#000">0</text>
<text x="924.73" y="455.60" font-family="Liberation Sans" font-size="24.7" stroke="#000" stroke-width="0.15" textLength="60.39" lengthAdjust="spacingAndGlyphs" fill="#000">2500</text>
<text x="1053.71" y="455.60" font-family="Liberation Sans" font-size="24.7" stroke="#000" stroke-width="0.15" textLength="60.10" lengthAdjust="spacingAndGlyphs" fill="#000">5000</text>
<text x="1182.13" y="455.60" font-family="Liberation Sans" font-size="24.7" stroke="#000" stroke-width="0.15" textLength="60.39" lengthAdjust="spacingAndGlyphs" fill="#000">7500</text>
<text x="1302.69" y="455.60" font-family="Liberation Sans" font-size="24.7" stroke="#000" stroke-width="0.15" textLength="75.81" lengthAdjust="spacingAndGlyphs" fill="#000">10000</text>
<text x="746.60" y="63.30" font-family="Liberation Sans" font-size="24.7" stroke="#000" stroke-width="0.15" textLength="30.16" lengthAdjust="spacingAndGlyphs" fill="#000">10</text>
<text x="777.20" y="54.10" font-family="Liberation Sans" font-size="17.3" stroke="#000" stroke-width="0.15" textLength="10.27" lengthAdjust="spacingAndGlyphs" fill="#000">0</text>
<text x="732.42" y="129.48" font-family="Liberation Sans" font-size="24.7" stroke="#000" stroke-width="0.15" textLength="29.94" lengthAdjust="spacingAndGlyphs" fill="#000">10</text>
<text x="777.15" y="120.48" font-family="Liberation Sans" font-size="17.3" stroke="#000" stroke-width="0.15" textLength="9.62" lengthAdjust="spacingAndGlyphs" fill="#000">1</text>
<text x="732.42" y="195.26" font-family="Liberation Sans" font-size="24.7" stroke="#000" stroke-width="0.15" textLength="29.94" lengthAdjust="spacingAndGlyphs" fill="#000">10</text>
<text x="776.82" y="186.26" font-family="Liberation Sans" font-size="17.3" stroke="#000" stroke-width="0.15" textLength="9.99" lengthAdjust="spacingAndGlyphs" fill="#000">2</text>
<text x="732.42" y="261.04" font-family="Liberation Sans" font-size="24.7" stroke="#000" stroke-width="0.15" textLength="29.94" lengthAdjust="spacingAndGlyphs" fill="#000">10</text>
<text x="776.82" y="252.04" font-family="Liberation Sans" font-size="17.3" stroke="#000" stroke-width="0.15" textLength="9.99" lengthAdjust="spacingAndGlyphs" fill="#000">3</text>
<text x="732.42" y="326.82" font-family="Liberation Sans" font-size="24.7" stroke="#000" stroke-width="0.15" textLength="29.94" lengthAdjust="spacingAndGlyphs" fill="#000">10</text>
<text x="777.11" y="317.82" font-family="Liberation Sans" font-size="17.3" stroke="#000" stroke-width="0.15" textLength="9.40" lengthAdjust="spacingAndGlyphs" fill="#000">4</text>
<text x="732.42" y="392.60" font-family="Liberation Sans" font-size="24.7" stroke="#000" stroke-width="0.15" textLength="29.94" lengthAdjust="spacingAndGlyphs" fill="#000">10</text>
<text x="776.85" y="383.60" font-family="Liberation Sans" font-size="17.3" stroke="#000" stroke-width="0.15" textLength="9.68" lengthAdjust="spacingAndGlyphs" fill="#000">5</text>
<text x="1036.07" y="484.00" font-family="Liberation Sans" font-size="22.6" stroke="#000" stroke-width="0.15" textLength="95.05" lengthAdjust="spacingAndGlyphs" fill="#000">Iteration</text>
<text x="143.55" y="528.10" font-family="Liberation Serif" font-size="32" stroke="#fff" stroke-width="0.3" textLength="9.59" lengthAdjust="spacingAndGlyphs" fill="#000">(</text>
<text x="153.51" y="528.10" font-family="Liberation Serif" font-size="28.5" stroke="#fff" stroke-width="0.3" textLength="15.08" lengthAdjust="spacingAndGlyphs" fill="#000">a</text>
<text x="169.31" y="528.10" font-family="Liberation Serif" font-size="32" stroke="#fff" stroke-width="0.3" textLength="8.40" lengthAdjust="spacingAndGlyphs" fill="#000">)</text>
<text x="190.88" y="528.10" font-family="Liberation Serif" font-size="28.5" stroke="#fff" stroke-width="0.3" textLength="96.69" lengthAdjust="spacingAndGlyphs" fill="#000">MNIST</text>
<text x="289.80" y="528.10" font-family="Liberation Serif" font-size="28.5" stroke="#fff" stroke-width="0.3" textLength="7.12" lengthAdjust="spacingAndGlyphs" fill="#000">,</text>
<text x="306.03" y="528.10" font-family="Liberation Serif" font-size="28.5" font-style="italic" stroke="#fff" stroke-width="0.3" textLength="18.05" lengthAdjust="spacingAndGlyphs" fill="#000">n</text>
<text x="362.95" y="528.10" font-family="Liberation Serif" font-size="28.5" stroke="#fff" stroke-width="0.3" textLength="38.37" lengthAdjust="spacingAndGlyphs" fill="#000">20,</text>
<text x="410.64" y="528.10" font-family="Liberation Serif" font-size="28.5" stroke="#fff" stroke-width="0.3" textLength="51.23" lengthAdjust="spacingAndGlyphs" fill="#000">ring</text>
<text x="470.38" y="528.10" font-family="Liberation Serif" font-size="28.5" stroke="#fff" stroke-width="0.3" textLength="73.56" lengthAdjust="spacingAndGlyphs" fill="#000">graph</text>
<text x="873.91" y="528.10" font-family="Liberation Serif" font-size="32" stroke="#fff" stroke-width="0.3" textLength="9.19" lengthAdjust="spacingAndGlyphs" fill="#000">(</text>
<text x="885.00" y="528.10" font-family="Liberation Serif" font-size="28.5" stroke="#fff" stroke-width="0.3" textLength="15.16" lengthAdjust="spacingAndGlyphs" fill="#000">b</text>
<text x="901.16" y="528.10" font-family="Liberation Serif" font-size="32" stroke="#fff" stroke-width="0.3" textLength="8.91" lengthAdjust="spacingAndGlyphs" fill="#000">)</text>
<text x="923.18" y="528.10" font-family="Liberation Serif" font-size="28.5" stroke="#fff" stroke-width="0.3" textLength="96.59" lengthAdjust="spacingAndGlyphs" fill="#000">MNIST</text>
<text x="1022.00" y="528.10" font-family="Liberation Serif" font-size="28.5" stroke="#fff" stroke-width="0.3" textLength="7.12" lengthAdjust="spacingAndGlyphs" fill="#000">,</text>
<text x="1037.83" y="528.10" font-family="Liberation Serif" font-size="28.5" font-style="italic" stroke="#fff" stroke-width="0.3" textLength="18.05" lengthAdjust="spacingAndGlyphs" fill="#000">n</text>
<text x="1095.27" y="528.10" font-family="Liberation Serif" font-size="28.5" stroke="#fff" stroke-width="0.3" textLength="37.61" lengthAdjust="spacingAndGlyphs" fill="#000">40,</text>
<text x="1143.05" y="528.10" font-family="Liberation Serif" font-size="28.5" stroke="#fff" stroke-width="0.3" textLength="50.41" lengthAdjust="spacingAndGlyphs" fill="#000">ring</text>
<text x="1201.97" y="528.10" font-family="Liberation Serif" font-size="28.5" stroke="#fff" stroke-width="0.3" textLength="74.38" lengthAdjust="spacingAndGlyphs" fill="#000">graph</text>
</svg></body></html>
